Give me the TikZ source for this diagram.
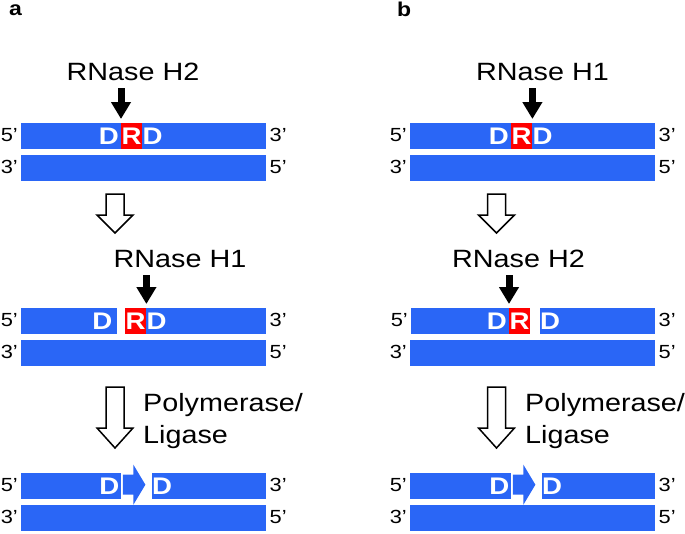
\documentclass[tikz,border=0pt]{standalone}
\usepackage{fontspec}
\setmainfont{Liberation Sans}[FakeStretch=1.15]
\usetikzlibrary{positioning, arrows.meta}
\definecolor{dnablue}{RGB}{42,102,246}
\definecolor{ribored}{RGB}{255,0,0}
\tikzset{
x=1pt, y=-1pt, % one unit is one pixel, y grows downwards
strand/.style={fill=dnablue, inner sep=0pt, minimum height=26pt, anchor=north west}, % one DNA strand
ribo/.style={fill=ribored, inner sep=0pt, minimum width=21pt, minimum height=26pt, text=white, font=\bfseries\fontsize{24}{24}\selectfont}, % the ribonucleotide
base/.style={text=white, inner sep=0pt, font=\bfseries\fontsize{24}{24}\selectfont}, % a deoxynucleotide
prime/.style={inner sep=0pt, font=\fontsize{19}{19}\selectfont, yshift=1pt}, % the 5' and 3' ends
enzyme/.style={inner sep=0pt, font=\fontsize{25}{25}\selectfont, anchor=base}, % enzyme names
panel/.style={inner sep=0pt, font=\bfseries\fontsize{20}{20}\selectfont, anchor=base west}, % panel letters
cut/.style={-{Triangle[width=19pt, length=17pt]}, line width=7pt, shorten <=8pt, shorten >=4pt}, % black cleavage arrows
}
% hollow arrow: x, top, bottom, head length
\newcommand{\steparrow}[4]{%
  \draw[line width=1.5pt, fill=white] (#1-9,#2) -- (#1+9,#2) -- (#1+9,#3-#4) -- (#1+18,#3-#4)
    -- (#1,#3) -- (#1-18,#3-#4) -- (#1-9,#3-#4) -- cycle;}

\begin{document}
\begin{tikzpicture}
    \useasboundingbox (0,0) rectangle (685,533);

    % panel a
    \node[panel] (pa) at (9,15) {a};
    \node[strand, minimum width=245pt] (a1t) at (21,123) {};
    \node[strand, minimum width=245pt] (a1b) at (21,155) {};
    \node[ribo, anchor=north west] (a1x) at (121,123) {R};
    \node[base, left=2pt of a1x] {D};
    \node[base, right=0pt of a1x] {D};
    \node[enzyme] (h2a) at (133,80) {RNase H2};
    \draw[cut] (h2a.south -| a1x.north west) -- (a1x.north west);
    \node[prime, left=3pt of a1t] {5’};
    \node[prime, right=3pt of a1t] {3’};
    \node[prime, left=3pt of a1b] {3’};
    \node[prime, right=3pt of a1b] {5’};

    \steparrow{115}{194}{233}{18}

    \node[strand, minimum width=96pt] (a2l) at (21,308) {};
    \node[strand, minimum width=141pt] (a2r) at (125,308) {};
    \node[strand, minimum width=245pt] (a2b) at (21,340) {};
    \node[ribo, anchor=north west] (a2x) at (a2r.north west) {R};
    \node[base, left=5pt of a2l.east] {D};
    \node[base, right=0pt of a2x] {D};
    \node[enzyme] (h1a) at (180,267) {RNase H1};
    \draw[cut] (h1a.south -| a2x.north east) -- (a2x.north east);
    \node[prime, left=3pt of a2l] {5’};
    \node[prime, right=3pt of a2r] {3’};
    \node[prime, left=3pt of a2b] {3’};
    \node[prime, right=3pt of a2b] {5’};

    \steparrow{115}{387}{448}{20}
    \node[enzyme, anchor=base west] (pola) at (143,411) {Polymerase/};
    \node[enzyme, anchor=base west] (liga) at (143,443) {Ligase};

    \node[strand, minimum width=100pt] (a3l) at (21,473) {};
    \node[strand, minimum width=114pt] (a3r) at (152,473) {};
    \node[strand, minimum width=245pt] (a3b) at (21,505) {};
    \fill[dnablue] (a3l.east) ++(1.5,-11.5) -- ++(10.5,0) -- ++(0,-10) -- ++(12,20)
        -- ++(-12,20) -- ++(0,-10) -- ++(-10.5,0) -- cycle;
    \node[base, left=2pt of a3l.east] {D};
    \node[base, right=0pt of a3r.west] {D};
    \node[prime, left=3pt of a3l] {5’};
    \node[prime, right=3pt of a3r] {3’};
    \node[prime, left=3pt of a3b] {3’};
    \node[prime, right=3pt of a3b] {5’};

    % panel b
    \node[panel] (pb) at (397,16) {b};
    \node[strand, minimum width=245pt] (b1t) at (410,123) {};
    \node[strand, minimum width=245pt] (b1b) at (410,155) {};
    \node[ribo, anchor=north west] (b1x) at (511,123) {R};
    \node[base, left=2pt of b1x] {D};
    \node[base, right=0pt of b1x] {D};
    \node[enzyme] (h1b) at (542.5,80) {RNase H1};
    \draw[cut] (h1b.south -| b1x.north east) -- (b1x.north east);
    \node[prime, left=3pt of b1t] {5’};
    \node[prime, right=3pt of b1t] {3’};
    \node[prime, left=3pt of b1b] {3’};
    \node[prime, right=3pt of b1b] {5’};

    \steparrow{496.5}{194}{233}{18}

    \node[strand, minimum width=119pt] (b2l) at (411,308) {};
    \node[strand, minimum width=115pt] (b2r) at (540,308) {};
    \node[strand, minimum width=245pt] (b2b) at (410,340) {};
    \node[ribo, anchor=north east] (b2x) at (b2l.north east) {R};
    \node[base, left=2pt of b2x] {D};
    \node[base, right=0pt of b2r.west] {D};
    \node[enzyme] (h2b) at (518.5,267) {RNase H2};
    \draw[cut] (h2b.south -| b2x.north west) -- (b2x.north west);
    \node[prime, left=3pt of b2l] {5’};
    \node[prime, right=3pt of b2r] {3’};
    \node[prime, left=3pt of b2b] {3’};
    \node[prime, right=3pt of b2b] {5’};

    \steparrow{496.5}{387}{448}{20}
    \node[enzyme, anchor=base west] (polb) at (525,411) {Polymerase/};
    \node[enzyme, anchor=base west] (ligb) at (525,443) {Ligase};

    \node[strand, minimum width=101pt] (b3l) at (410,473) {};
    \node[strand, minimum width=113pt] (b3r) at (542,473) {};
    \node[strand, minimum width=245pt] (b3b) at (410,505) {};
    \fill[dnablue] (b3l.east) ++(1.5,-11.5) -- ++(10.5,0) -- ++(0,-10) -- ++(12,20)
        -- ++(-12,20) -- ++(0,-10) -- ++(-10.5,0) -- cycle;
    \node[base, left=2pt of b3l.east] {D};
    \node[base, right=0pt of b3r.west] {D};
    \node[prime, left=3pt of b3l] {5’};
    \node[prime, right=3pt of b3r] {3’};
    \node[prime, left=3pt of b3b] {3’};
    \node[prime, right=3pt of b3b] {5’};
\end{tikzpicture}
\end{document}
